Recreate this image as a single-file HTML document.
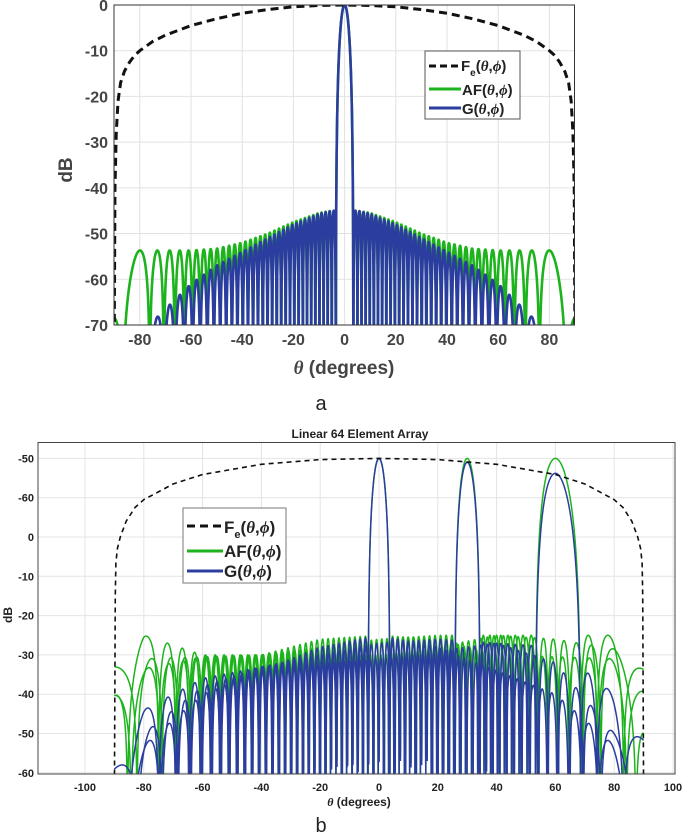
<!DOCTYPE html>
<html><head><meta charset="utf-8"><style>
html,body{margin:0;padding:0;background:#fff;}
svg{display:block;font-family:"Liberation Sans",sans-serif;}
</style></head><body>
<svg id="fig" width="685" height="838" viewBox="0 0 685 838" xmlns="http://www.w3.org/2000/svg">
<defs>
<clipPath id="clipA"><rect x="114" y="5" width="460.5" height="320"/></clipPath>
<clipPath id="clipB"><rect x="38" y="442.5" width="637" height="331.5"/></clipPath>
</defs>
<g id="chartA">
  <rect x="114" y="5" width="460.5" height="320" fill="#fff"/>
  <g id="gridA"></g>
  <g id="seriesA" clip-path="url(#clipA)"></g>
  <rect x="114" y="5" width="460.5" height="320" fill="none" stroke="#333" stroke-width="1"/>
  <g id="ticksA"></g>
  <text x="72" y="170" transform="rotate(-90 72 170)" text-anchor="middle" font-size="19" font-weight="bold" fill="#444">dB</text>
  <text x="344" y="374" text-anchor="middle" font-size="19" font-weight="bold" fill="#444"><tspan font-family="Liberation Serif" font-style="italic">θ</tspan> (degrees)</text>
  <g>
    <rect x="425" y="51" width="95" height="68" fill="#fff" stroke="#555" stroke-width="1"/>
    <line x1="429" y1="66" x2="459" y2="66" stroke="#111" stroke-width="3" stroke-dasharray="7,4"/>
    <text x="461" y="71" font-size="15" font-weight="bold" fill="#222">F<tspan font-size="10" dy="5">e</tspan><tspan dy="-5">(<tspan font-family="Liberation Serif" font-style="italic">θ</tspan>,<tspan font-family="Liberation Serif" font-style="italic">ϕ</tspan>)</tspan></text>
    <line x1="429" y1="89" x2="461" y2="89" stroke="#1db31d" stroke-width="3"/>
    <text x="462" y="95" font-size="15" font-weight="bold" fill="#222">AF(<tspan font-family="Liberation Serif" font-style="italic">θ</tspan>,<tspan font-family="Liberation Serif" font-style="italic">ϕ</tspan>)</text>
    <line x1="429" y1="108" x2="461" y2="108" stroke="#2b3d9e" stroke-width="3"/>
    <text x="462" y="114" font-size="15" font-weight="bold" fill="#222">G(<tspan font-family="Liberation Serif" font-style="italic">θ</tspan>,<tspan font-family="Liberation Serif" font-style="italic">ϕ</tspan>)</text>
  </g>
  <text x="321" y="410" text-anchor="middle" font-size="20" fill="#222">a</text>
</g>
<g id="chartB">
  <text x="360" y="438" text-anchor="middle" font-size="12" font-weight="bold" fill="#222">Linear 64 Element Array</text>
  <rect x="38" y="442.5" width="637" height="331.5" fill="#fff"/>
  <g id="gridB"></g>
  <g id="seriesB" clip-path="url(#clipB)"></g>
  <rect x="38" y="442.5" width="637" height="331.5" fill="none" stroke="#444" stroke-width="1"/>
  <g id="ticksB"></g>
  <text x="12" y="615" transform="rotate(-90 12 615)" text-anchor="middle" font-size="12" font-weight="bold" fill="#222">dB</text>
  <text x="359" y="806" text-anchor="middle" font-size="12" font-weight="bold" fill="#222"><tspan font-family="Liberation Serif" font-style="italic">θ</tspan> (degrees)</text>
  <g>
    <rect x="183" y="508" width="103" height="75" fill="#fff" stroke="#777" stroke-width="1"/>
    <line x1="187" y1="526" x2="222" y2="526" stroke="#111" stroke-width="3" stroke-dasharray="8,5"/>
    <text x="224" y="533" font-size="17" font-weight="bold" fill="#222">F<tspan font-size="11" dy="5">e</tspan><tspan dy="-5">(<tspan font-family="Liberation Serif" font-style="italic">θ</tspan>,<tspan font-family="Liberation Serif" font-style="italic">ϕ</tspan>)</tspan></text>
    <line x1="187" y1="551" x2="223" y2="551" stroke="#1db31d" stroke-width="3"/>
    <text x="224" y="557" font-size="17" font-weight="bold" fill="#222">AF(<tspan font-family="Liberation Serif" font-style="italic">θ</tspan>,<tspan font-family="Liberation Serif" font-style="italic">ϕ</tspan>)</text>
    <line x1="187" y1="571" x2="223" y2="571" stroke="#2b3d9e" stroke-width="3"/>
    <text x="224" y="577" font-size="17" font-weight="bold" fill="#222">G(<tspan font-family="Liberation Serif" font-style="italic">θ</tspan>,<tspan font-family="Liberation Serif" font-style="italic">ϕ</tspan>)</text>
  </g>
  <text x="321" y="832" text-anchor="middle" font-size="20" fill="#222">b</text>
</g>
</svg>
<script>
// ---------- Chart A data ----------
var aXTicks = [-80, -60, -40, -20, 0, 20, 40, 60, 80];
var aYTicks = [0, -10, -20, -30, -40, -50, -60, -70];
var aFeAngles = [-90, -89.7, -89.2, -88.5, -87.5, -86, -84, -82, -80, -75, -70, -60, -50, -40, -30, -20, -10, 0, 10, 20, 30, 40, 50, 60, 70, 75, 80, 82, 84, 86, 87.5, 88.5, 89.2, 89.7, 90];
var aFeValues = [-75, -40, -28, -21, -17, -14.5, -12.5, -11, -10, -8, -6.6, -4.5, -3, -1.8, -1, -0.4, -0.1, 0, -0.1, -0.4, -1, -1.8, -3, -4.5, -6.6, -8, -10, -11, -12.5, -14.5, -17, -21, -28, -40, -75];
var aEnvAngles = [-90, -80, -60, -50, -40, -30, -20, -10, -5, 0, 5, 10, 20, 30, 40, 50, 60, 80, 90];
var aAfEnv = [-53.7, -53.7, -53.7, -53.3, -52, -50, -47.5, -45.5, -45, -45, -45, -45.5, -47.5, -50, -52, -53.3, -53.7, -53.7, -53.7];
var aGEnv = [-80, -72, -61, -57, -54, -51, -48, -45.7, -45, -45, -45, -45.7, -48, -51, -54, -57, -61, -72, -80];
var aMainPeak = [0];
var aSteer = [0];

// ---------- Chart B data ----------
var bXTicks = [-100, -80, -60, -40, -20, 0, 20, 40, 60, 80, 100];
var bYTickValues = [20, 10, 0, -10, -20, -30, -40, -50, -60];
var bYTickLabels = ["-50", "-60", "0", "-10", "-20", "-30", "-40", "-50", "-60"];
var bFeAngles = [-90, -89.7, -89.5, -89, -88, -86, -83, -80, -70, -60, -40, -20, 0, 20, 40, 60, 70, 80, 83, 86, 88, 89, 89.5, 89.7, 90];
var bFeValues = [-65, -15, -6.7, -3, 0, 4, 7.5, 9.5, 13.5, 15.9, 18.5, 19.7, 20, 19.7, 18.5, 15.9, 13.5, 9.5, 7.5, 4, 0, -3, -6.7, -15, -65];
var bSteer = [0, 30, 60];
var bAfPeak = [20, 20, 20];
var bGPeak = [20, 19, 16.2];
var bEnvAngles = [-90, -80, -60, -40, -20, 0, 20, 40, 60, 80, 90];
var bAfEnv0 = [-34, -33.5, -30.5, -30, -26, -25, -26, -30, -30.5, -31, -33];
var bAfEnv1 = [-31, -31, -30.5, -30, -28, -26, -25, -25, -26, -28.5, -30];
var bAfEnv2 = [-30, -25, -30, -30, -30, -30, -28, -25, -25, -25, -30];
var bGEnv0 = [-60, -53, -40, -34, -28, -25, -28, -34, -40, -53, -60];
var bGEnv1 = [-57, -50, -38, -33, -30, -27, -26, -27, -32, -50, -57];
var bGEnv2 = [-52, -44, -36, -33, -32, -31, -29, -27, -28, -40, -48];

var NS = "http://www.w3.org/2000/svg";
function mk(tag, attrs, parent) {
  var e = document.createElementNS(NS, tag);
  for (var k in attrs) e.setAttribute(k, attrs[k]);
  parent.appendChild(e);
  return e;
}
function interp(xs, ys, x) {
  if (x <= xs[0]) return ys[0];
  for (var i = 1; i < xs.length; i++) {
    if (x <= xs[i]) { var t = (x - xs[i-1]) / (xs[i] - xs[i-1]); return ys[i-1] + t * (ys[i] - ys[i-1]); }
  }
  return ys[ys.length - 1];
}
var D2R = Math.PI / 180;

function xA(t) { return 344.6 + t * 2.56; }
function yA(v) { return 5 - v * 4.571; }
function xB(t) { return 379 + t * 2.94; }
function yB(v) { return 537 - v * 3.93; }

function patternPath(xs, ys, steer, peak, u0, du, envAngles, env, ymin) {
  var d = "";
  var s0 = Math.sin(steer * D2R);
  for (var t = -90; t <= 90.0001; t += 0.04) {
    var u = Math.sin(t * D2R) - s0;
    var au = Math.abs(u);
    var v;
    if (au < u0) {
      var c = Math.cos(Math.PI / 2 * au / u0);
      v = peak + 40 * Math.log10(Math.max(c, 1e-6));
    } else {
      var q = (au - u0) / du;
      var f = q - Math.floor(q);
      v = interp(envAngles, env, t) + 20 * Math.log10(Math.max(Math.abs(Math.sin(Math.PI * f)), 1e-6));
    }
    if (v < ymin) v = ymin;
    d += (d ? "L" : "M") + xs(t).toFixed(2) + "," + ys(v).toFixed(2);
  }
  return d;
}
function curvePath(xs, ys, angles, vals) {
  var d = "";
  for (var i = 0; i < angles.length; i++) d += (i ? "L" : "M") + xs(angles[i]).toFixed(2) + "," + ys(vals[i]).toFixed(2);
  return d;
}

// ---------- Draw A ----------
var gridA = document.getElementById("gridA"), ticksA = document.getElementById("ticksA"), serA = document.getElementById("seriesA");
aXTicks.forEach(function (t) {
  var l = mk("line", {x1: xA(t), x2: xA(t), y1: 5, y2: 325, stroke: "#e2e2e2", "stroke-width": 1}, gridA);
  
  
  var tx = mk("text", {x: xA(t), y: 345, "text-anchor": "middle", "font-size": 16, "font-weight": "bold", fill: "#444"}, ticksA);
  tx.textContent = t;
  
  
});
aYTicks.forEach(function (v) {
  var l = mk("line", {x1: 114, x2: 574.5, y1: yA(v), y2: yA(v), stroke: "#e2e2e2", "stroke-width": 1}, gridA);
  
  
  var tx = mk("text", {x: 108, y: yA(v) + 6, "text-anchor": "end", "font-size": 16, "font-weight": "bold", fill: "#444"}, ticksA);
  tx.textContent = v;
  
  
});
var afA = mk("path", {d: patternPath(xA, yA, aSteer[0], aMainPeak[0], 0.06, 0.0276, aEnvAngles, aAfEnv, -75), fill: "none", stroke: "#1db31d", "stroke-width": 2.6, "stroke-linejoin": "round"}, serA);


var gA = mk("path", {d: patternPath(xA, yA, aSteer[0], aMainPeak[0], 0.06, 0.0276, aEnvAngles, aGEnv, -75), fill: "none", stroke: "#2b3d9e", "stroke-width": 2.6, "stroke-linejoin": "round"}, serA);


var feA = mk("path", {d: curvePath(xA, yA, aFeAngles, aFeValues), fill: "none", stroke: "#111", "stroke-width": 3, "stroke-dasharray": "8,5"}, serA);



// ---------- Draw B ----------
var gridB = document.getElementById("gridB"), ticksB = document.getElementById("ticksB"), serB = document.getElementById("seriesB");
bXTicks.forEach(function (t) {
  var l = mk("line", {x1: xB(t), x2: xB(t), y1: 442.5, y2: 774, stroke: "#e4e4e4", "stroke-width": 1}, gridB);
  
  
  var tx = mk("text", {x: xB(t), y: 791, "text-anchor": "middle", "font-size": 11, "font-weight": "bold", fill: "#222"}, ticksB);
  tx.textContent = t;
  
  
});
bYTickValues.forEach(function (v, i) {
  var l = mk("line", {x1: 38, x2: 675, y1: yB(v), y2: yB(v), stroke: "#e4e4e4", "stroke-width": 1}, gridB);
  
  
  var tx = mk("text", {x: 34, y: yB(v) + 4, "text-anchor": "end", "font-size": 11, "font-weight": "bold", fill: "#222"}, ticksB);
  tx.textContent = bYTickLabels[i];
  
  
});
var bAfEnvs = [bAfEnv0, bAfEnv1, bAfEnv2];
var bGEnvs = [bGEnv0, bGEnv1, bGEnv2];
bSteer.forEach(function (s, i) {
  var p = mk("path", {d: patternPath(xB, yB, s, bAfPeak[i], 0.065, 0.031, bEnvAngles, bAfEnvs[i], -65), fill: "none", stroke: "#1db31d", "stroke-width": 1.5}, serB);
  
  
});
bSteer.forEach(function (s, i) {
  var p = mk("path", {d: patternPath(xB, yB, s, bGPeak[i], 0.065, 0.031, bEnvAngles, bGEnvs[i], -65), fill: "none", stroke: "#2b3d9e", "stroke-width": 1.5}, serB);
  
  
});
var feB = mk("path", {d: curvePath(xB, yB, bFeAngles, bFeValues), fill: "none", stroke: "#111", "stroke-width": 1.6, "stroke-dasharray": "5,4"}, serB);


</script>
</body></html>
